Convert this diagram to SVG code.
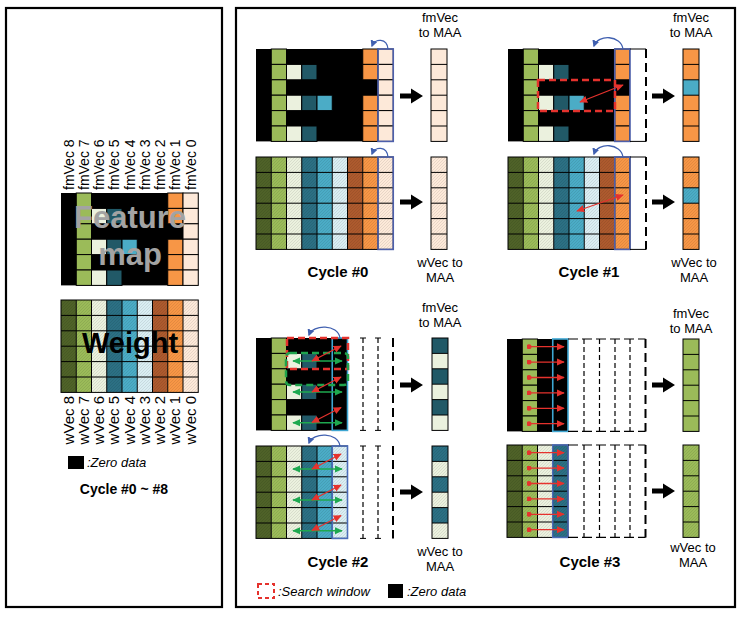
<svg xmlns="http://www.w3.org/2000/svg" xmlns:xlink="http://www.w3.org/1999/xlink" width="740" height="621" viewBox="0 0 740 621">
<style>
text{font-family:"Liberation Sans",Arial,sans-serif;fill:#000}
.c{stroke:#000;stroke-width:1}
.g{fill:#9bbb59}.o{fill:#4f6228}.cr{fill:#ebf1de}.t{fill:#215967}.tw{fill:#2c7084}.b{fill:#4bacc6}.pb{fill:#daeef3}.br{fill:#ad5a2e}.or{fill:#f79646}.pe{fill:#fde9d9}.k{fill:#000}
.ln{fill:none;stroke:#000;stroke-width:1}
.frame{fill:#fff;stroke:#000;stroke-width:2.2}
.hl{fill:none;stroke:#4d5fab;stroke-width:1.6}
.hc{fill:none;stroke:#3ea6d2;stroke-width:1.6}
.hw{fill:none;stroke:#4a6cb8;stroke-width:1.6}
.lbl{font-size:13px;text-anchor:middle}
.cyc{font-size:15px;font-weight:bold;text-anchor:middle}
.vl{font-size:14px}
.wl{font-size:15px;text-anchor:end}
.it{font-size:13px;font-style:italic}
.sd{fill:none;stroke:#000;stroke-width:1.2;stroke-dasharray:5 3}
.ld{fill:none;stroke:#000;stroke-width:2;stroke-dasharray:9 5}
.hd{fill:none;stroke:#000;stroke-width:1.2;stroke-dasharray:10 4}
.rl{fill:none;stroke:#e5322d;stroke-width:1.3}
.gl{fill:none;stroke:#1ea84f;stroke-width:1.5}
.bl{fill:none;stroke:#4060b0;stroke-width:1.3}
.rw{fill:none;stroke:#e5322d;stroke-width:2.5;stroke-dasharray:7 4}
.gw{fill:none;stroke:#1fa34c;stroke-width:2.5;stroke-dasharray:7 4}
.ba{fill:#000}
</style>
<defs>
<pattern id="hatch" patternUnits="userSpaceOnUse" width="3" height="3">
<path d="M0,3L3,0M-1,1L1,-1M2,4L4,2" stroke="#000" stroke-opacity="0.12" stroke-width="0.7"/>
</pattern>
<clipPath id="c8"><rect x="-2" y="-2" width="124" height="96.4"/></clipPath>
<clipPath id="c6"><rect x="-2" y="-2" width="93.5" height="96.4"/></clipPath>
<clipPath id="c4"><rect x="-2" y="-2" width="63" height="96.4"/></clipPath>
<marker id="mb" viewBox="0 0 10 10" refX="8" refY="5" markerWidth="7" markerHeight="7" markerUnits="userSpaceOnUse" orient="auto"><path d="M0,0L10,5L0,10Z" fill="#4060b0"/></marker>
<marker id="mr" viewBox="0 0 10 10" refX="9" refY="5" markerWidth="8" markerHeight="8" markerUnits="userSpaceOnUse" orient="auto-start-reverse"><path d="M0,0.5L10,5L0,9.5Z" fill="#e5322d"/></marker>
<marker id="mg" viewBox="0 0 10 10" refX="9" refY="5" markerWidth="8" markerHeight="8" markerUnits="userSpaceOnUse" orient="auto-start-reverse"><path d="M0,0.5L10,5L0,9.5Z" fill="#1ea84f"/></marker>
<marker id="md" viewBox="0 0 10 10" refX="5" refY="5" markerWidth="5" markerHeight="5" markerUnits="userSpaceOnUse"><circle cx="5" cy="5" r="5" fill="#e5322d"/></marker>
<path id="barrow" d="M0,-2.5H11V-7.5L23,0L11,7.5V2.5H0Z"/>
<g id="FM9">
<rect width="137.25" height="92.4" fill="#000"/>
<rect class="g c" x="15.25" y="0" width="15.25" height="15.4"/>
<rect class="g c" x="15.25" y="15.4" width="15.25" height="15.4"/>
<rect class="g c" x="15.25" y="30.8" width="15.25" height="15.4"/>
<rect class="g c" x="15.25" y="46.2" width="15.25" height="15.4"/>
<rect class="g c" x="15.25" y="61.6" width="15.25" height="15.4"/>
<rect class="g c" x="15.25" y="77" width="15.25" height="15.4"/>
<rect class="cr c" x="30.5" y="15.4" width="15.25" height="15.4"/>
<rect class="cr c" x="30.5" y="46.2" width="15.25" height="15.4"/>
<rect class="cr c" x="30.5" y="77" width="15.25" height="15.4"/>
<rect class="t c" x="45.75" y="15.4" width="15.25" height="15.4"/>
<rect class="t c" x="45.75" y="46.2" width="15.25" height="15.4"/>
<rect class="t c" x="45.75" y="77" width="15.25" height="15.4"/>
<rect class="b c" x="61" y="46.2" width="15.25" height="15.4"/>
<rect class="or c" x="106.75" y="0" width="15.25" height="15.4"/>
<rect class="or c" x="106.75" y="15.4" width="15.25" height="15.4"/>
<rect class="or c" x="106.75" y="46.2" width="15.25" height="15.4"/>
<rect class="or c" x="106.75" y="61.6" width="15.25" height="15.4"/>
<rect class="or c" x="106.75" y="77" width="15.25" height="15.4"/>
<rect class="pe c" x="122" y="0" width="15.25" height="15.4"/>
<rect class="pe c" x="122" y="15.4" width="15.25" height="15.4"/>
<rect class="pe c" x="122" y="30.8" width="15.25" height="15.4"/>
<rect class="pe c" x="122" y="46.2" width="15.25" height="15.4"/>
<rect class="pe c" x="122" y="61.6" width="15.25" height="15.4"/>
<rect class="pe c" x="122" y="77" width="15.25" height="15.4"/>
</g>
<g id="W9">
<rect class="o" x="0" width="15.25" height="92.4"/>
<rect class="g" x="15.25" width="15.25" height="92.4"/>
<rect class="cr" x="30.5" width="15.25" height="92.4"/>
<rect class="tw" x="45.75" width="15.25" height="92.4"/>
<rect class="b" x="61" width="15.25" height="92.4"/>
<rect class="pb" x="76.25" width="15.25" height="92.4"/>
<rect class="br" x="91.5" width="15.25" height="92.4"/>
<rect class="or" x="106.75" width="15.25" height="92.4"/>
<rect class="pe" x="122" width="15.25" height="92.4"/>
<rect width="137.25" height="92.4" fill="url(#hatch)"/>
<path class="ln" d="M0,15.4H137.25M0,30.8H137.25M0,46.2H137.25M0,61.6H137.25M0,77H137.25M15.25,0V92.4M30.5,0V92.4M45.75,0V92.4M61,0V92.4M76.25,0V92.4M91.5,0V92.4M106.75,0V92.4M122,0V92.4"/>
</g>
<g id="vgrid"><rect class="ln" width="16" height="92.4"/><path class="ln" d="M0,15.4H16M0,30.8H16M0,46.2H16M0,61.6H16M0,77H16"/></g>
<rect id="vh" width="16" height="92.4" fill="url(#hatch)"/>
</defs>

<rect class="frame" x="6" y="8" width="216" height="599"/>
<rect class="frame" x="236" y="8" width="499" height="599"/>

<!-- LEFT PANEL -->
<g id="left-fm-labels" class="vl">
<text transform="translate(73.6,190) rotate(-90)">fmVec 8</text>
<text transform="translate(88.85,190) rotate(-90)">fmVec 7</text>
<text transform="translate(104.1,190) rotate(-90)">fmVec 6</text>
<text transform="translate(119.35,190) rotate(-90)">fmVec 5</text>
<text transform="translate(134.6,190) rotate(-90)">fmVec 4</text>
<text transform="translate(149.85,190) rotate(-90)">fmVec 3</text>
<text transform="translate(165.1,190) rotate(-90)">fmVec 2</text>
<text transform="translate(180.35,190) rotate(-90)">fmVec 1</text>
<text transform="translate(195.6,190) rotate(-90)">fmVec 0</text>
</g>
<g id="left-fm" transform="translate(61,193)">
<use href="#FM9"/>
<text x="69" y="35" font-size="31" font-weight="bold" text-anchor="middle" style="fill:#a3a3a3">Feature</text>
<text x="69" y="72" font-size="31" font-weight="bold" text-anchor="middle" style="fill:#a3a3a3">map</text>
</g>
<g id="left-w" transform="translate(61,300)">
<use href="#W9"/>
<rect class="ln" width="137.25" height="92.4"/>
<text x="69" y="53" font-size="29" font-weight="bold" text-anchor="middle">Weight</text>
</g>
<g id="left-w-labels" class="wl">
<text transform="translate(73.6,396) rotate(-90)">wVec 8</text>
<text transform="translate(88.85,396) rotate(-90)">wVec 7</text>
<text transform="translate(104.1,396) rotate(-90)">wVec 6</text>
<text transform="translate(119.35,396) rotate(-90)">wVec 5</text>
<text transform="translate(134.6,396) rotate(-90)">wVec 4</text>
<text transform="translate(149.85,396) rotate(-90)">wVec 3</text>
<text transform="translate(165.1,396) rotate(-90)">wVec 2</text>
<text transform="translate(180.35,396) rotate(-90)">wVec 1</text>
<text transform="translate(195.6,396) rotate(-90)">wVec 0</text>
</g>
<g id="left-legend">
<rect class="k" x="68" y="456" width="16" height="13"/>
<text class="it" x="87" y="467">:Zero data</text>
<text class="cyc" x="124" y="494" style="font-size:14px">Cycle #0 ~ #8</text>
</g>

<!-- CYCLE 0 -->
<g id="c0-fm" transform="translate(256,49)">
<use href="#FM9"/>
<rect class="hl" x="122" y="0" width="15.25" height="92.4"/>
</g>
<g id="c0-w" transform="translate(256,157)">
<use href="#W9"/>
<rect class="ln" width="137.25" height="92.4"/>
<rect class="hl" x="122" y="0" width="15.25" height="92.4"/>
</g>
<g id="c0-fm-out" transform="translate(431,49)"><rect class="pe" width="16" height="92.4"/><use href="#vgrid"/></g>
<g id="c0-w-out" transform="translate(431,157)"><rect class="pe" width="16" height="92.4"/><use href="#vh"/><use href="#vgrid"/></g>
<g id="c0-text">
<text class="lbl" x="440" y="22">fmVec</text><text class="lbl" x="440" y="37">to MAA</text>
<text class="lbl" x="440" y="267">wVec to</text><text class="lbl" x="440" y="282">MAA</text>
<text class="cyc" x="338" y="277">Cycle #0</text>
</g>

<!-- CYCLE 1 -->
<g id="c1-fm" transform="translate(508,49)">
<g clip-path="url(#c8)"><use href="#FM9"/></g>
<rect class="hl" x="106.75" y="0" width="15.25" height="92.4"/>
</g>
<g id="c1-w" transform="translate(508,157)">
<g clip-path="url(#c8)"><use href="#W9"/></g>
<rect class="ln" width="122" height="92.4"/>
<rect class="hl" x="106.75" y="0" width="15.25" height="92.4"/>
</g>
<g id="c1-empty">
<path class="ln" d="M630,49H646M630,141.4H646M630,157H646M630,249.4H646"/>
<path class="ld" d="M646,49V141.4M646,157V249.4"/>
</g>
<rect id="c1-window" class="rw" x="538" y="80" width="77" height="31"/>
<g id="c1-fm-out" transform="translate(683,49)"><rect class="or" width="16" height="92.4"/><rect class="b" y="30.8" width="16" height="15.4"/><use href="#vgrid"/></g>
<g id="c1-w-out" transform="translate(683,157)"><rect class="or" width="16" height="92.4"/><rect class="b" y="30.8" width="16" height="15.4"/><use href="#vh"/><use href="#vgrid"/></g>
<g id="c1-text">
<text class="lbl" x="691" y="22">fmVec</text><text class="lbl" x="691" y="37">to MAA</text>
<text class="lbl" x="694" y="267">wVec to</text><text class="lbl" x="694" y="282">MAA</text>
<text class="cyc" x="589" y="277">Cycle #1</text>
</g>

<!-- CYCLE 2 -->
<g id="c2-fm" transform="translate(256,338)">
<g clip-path="url(#c6)"><use href="#FM9"/></g>
<rect class="k" x="61" y="46.2" width="15.25" height="15.4"/>
<rect class="hc" x="76.25" y="0" width="15.25" height="92.4"/>
</g>
<g id="c2-w" transform="translate(256,446)">
<g clip-path="url(#c6)"><use href="#W9"/></g>
<rect class="ln" width="91.5" height="92.4"/>
<rect class="hw" x="76.25" y="0" width="15.25" height="92.4"/>
</g>
<g id="c2-empty">
<path class="sd" d="M363,338V430.4M378,338V430.4M363,446V538.4M378,446V538.4"/>
<path class="ln" d="M360,338H366M375,338H381M360,430.4H366M375,430.4H381M360,446H366M375,446H381M360,538.4H366M375,538.4H381"/>
<path class="ld" d="M393,338V430.4M393,446V538.4"/>
</g>
<rect id="c2-window-red" class="rw" x="287" y="338" width="61" height="31"/>
<rect id="c2-window-green" class="gw" x="286" y="353" width="62" height="32" rx="4"/>
<g id="c2-fm-out" transform="translate(432,338)">
<rect class="t" width="16" height="15.4"/><rect class="cr" y="15.4" width="16" height="15.4"/><rect class="t" y="30.8" width="16" height="15.4"/><rect class="cr" y="46.2" width="16" height="15.4"/><rect class="t" y="61.6" width="16" height="15.4"/><rect class="cr" y="77" width="16" height="15.4"/>
<use href="#vgrid"/></g>
<g id="c2-w-out" transform="translate(432,446)">
<rect class="tw" width="16" height="15.4"/><rect class="cr" y="15.4" width="16" height="15.4"/><rect class="tw" y="30.8" width="16" height="15.4"/><rect class="cr" y="46.2" width="16" height="15.4"/><rect class="tw" y="61.6" width="16" height="15.4"/><rect class="cr" y="77" width="16" height="15.4"/>
<use href="#vh"/><use href="#vgrid"/></g>
<g id="c2-text">
<text class="lbl" x="440" y="312">fmVec</text><text class="lbl" x="440" y="327">to MAA</text>
<text class="lbl" x="440" y="556">wVec to</text><text class="lbl" x="440" y="571">MAA</text>
<text class="cyc" x="338" y="567">Cycle #2</text>
</g>

<!-- CYCLE 3 -->
<g id="c3-fm" transform="translate(507,339)">
<g clip-path="url(#c4)"><use href="#FM9"/></g>
<rect class="k" x="30.5" y="0" width="30.5" height="92.4"/>
<rect class="hc" x="45.75" y="0" width="15.25" height="92.4"/>
</g>
<g id="c3-w" transform="translate(507,445)">
<g clip-path="url(#c4)"><use href="#W9"/></g>
<rect class="ln" width="61" height="92.4"/>
<rect class="hw" x="45.75" y="0" width="15.25" height="92.4"/>
</g>
<g id="c3-empty">
<path class="hd" d="M568,339H645.5M568,431.4H645.5M568,445H645.5M568,537.4H645.5"/>
<path class="sd" d="M584,339V431.4M599.5,339V431.4M615,339V431.4M630,339V431.4M584,445V537.4M599.5,445V537.4M615,445V537.4M630,445V537.4"/>
<path class="ld" d="M645.5,339V431.4M645.5,445V537.4"/>
</g>
<g id="c3-fm-out" transform="translate(683,339)"><rect class="g" width="16" height="92.4"/><use href="#vgrid"/></g>
<g id="c3-w-out" transform="translate(683,445)"><rect class="g" width="16" height="92.4"/><use href="#vh"/><use href="#vgrid"/></g>
<g id="c3-text">
<text class="lbl" x="691" y="318">fmVec</text><text class="lbl" x="691" y="333">to MAA</text>
<text class="lbl" x="693" y="552">wVec to</text><text class="lbl" x="693" y="567">MAA</text>
<text class="cyc" x="590" y="567">Cycle #3</text>
</g>

<!-- CONNECTORS -->
<g id="connectors">
<use href="#barrow" x="400" y="96" class="ba"/>
<use href="#barrow" x="400" y="202" class="ba"/>
<use href="#barrow" x="652" y="96" class="ba"/>
<use href="#barrow" x="652" y="202" class="ba"/>
<use href="#barrow" x="400" y="385" class="ba"/>
<use href="#barrow" x="400" y="492" class="ba"/>
<use href="#barrow" x="652" y="385" class="ba"/>
<use href="#barrow" x="652" y="491" class="ba"/>

<path class="bl" marker-end="url(#mb)" d="M388,49C387,38 375,38 372,46"/>
<path class="bl" marker-end="url(#mb)" d="M388,157C387,146 375,146 372,154"/>
<path class="bl" marker-end="url(#mb)" d="M623,49C621,35 598,34 594,46"/>
<path class="bl" marker-end="url(#mb)" d="M623,157C621,143 598,142 594,154"/>
<path class="bl" marker-end="url(#mb)" d="M340,338C338,324 313,324 309,335"/>
<path class="bl" marker-end="url(#mb)" d="M340,446C338,432 313,432 309,443"/>

<path class="rl" marker-start="url(#mr)" marker-end="url(#mr)" d="M580,102L623,85"/>
<path class="rl" marker-start="url(#mr)" marker-end="url(#mr)" d="M577,211L623,195"/>

<path class="gl" marker-start="url(#mg)" marker-end="url(#mg)" d="M293,361.1H342"/>
<path class="gl" marker-start="url(#mg)" marker-end="url(#mg)" d="M293,391.9H342"/>
<path class="gl" marker-start="url(#mg)" marker-end="url(#mg)" d="M293,422.7H342"/>
<path class="gl" marker-start="url(#mg)" marker-end="url(#mg)" d="M293,469.1H342"/>
<path class="gl" marker-start="url(#mg)" marker-end="url(#mg)" d="M293,499.9H342"/>
<path class="gl" marker-start="url(#mg)" marker-end="url(#mg)" d="M293,530.7H342"/>

<path class="rl" marker-start="url(#mr)" marker-end="url(#mr)" d="M312,361L341,346"/>
<path class="rl" marker-start="url(#mr)" marker-end="url(#mr)" d="M312,392L341,377"/>
<path class="rl" marker-start="url(#mr)" marker-end="url(#mr)" d="M312,422.5L341,407.5"/>
<path class="rl" marker-start="url(#mr)" marker-end="url(#mr)" d="M312,469L341,454"/>
<path class="rl" marker-start="url(#mr)" marker-end="url(#mr)" d="M312,500L341,485"/>
<path class="rl" marker-start="url(#mr)" marker-end="url(#mr)" d="M312,530.5L341,515.5"/>

<path class="rl" marker-start="url(#md)" marker-end="url(#mr)" d="M529,346.7H564"/>
<path class="rl" marker-start="url(#md)" marker-end="url(#mr)" d="M529,362.1H564"/>
<path class="rl" marker-start="url(#md)" marker-end="url(#mr)" d="M529,377.5H564"/>
<path class="rl" marker-start="url(#md)" marker-end="url(#mr)" d="M529,392.9H564"/>
<path class="rl" marker-start="url(#md)" marker-end="url(#mr)" d="M529,408.3H564"/>
<path class="rl" marker-start="url(#md)" marker-end="url(#mr)" d="M529,423.7H564"/>
<path class="rl" marker-start="url(#md)" marker-end="url(#mr)" d="M529,452.7H564"/>
<path class="rl" marker-start="url(#md)" marker-end="url(#mr)" d="M529,468.1H564"/>
<path class="rl" marker-start="url(#md)" marker-end="url(#mr)" d="M529,483.5H564"/>
<path class="rl" marker-start="url(#md)" marker-end="url(#mr)" d="M529,498.9H564"/>
<path class="rl" marker-start="url(#md)" marker-end="url(#mr)" d="M529,514.3H564"/>
<path class="rl" marker-start="url(#md)" marker-end="url(#mr)" d="M529,529.7H564"/>
</g>

<!-- BOTTOM LEGEND -->
<g id="legend">
<rect x="258" y="584" width="16" height="14" fill="none" stroke="#e5322d" stroke-width="2" stroke-dasharray="4 3"/>
<text class="it" x="278" y="596">:Search window</text>
<rect class="k" x="388" y="584" width="15" height="14"/>
<text class="it" x="407" y="596">:Zero data</text>
</g>
</svg>
